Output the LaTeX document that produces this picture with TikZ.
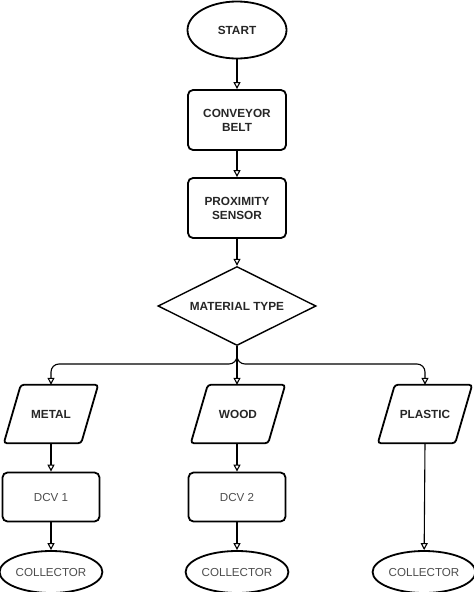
\documentclass[tikz,border=0pt]{standalone}
\usepackage{fontspec}
\setmainfont{Liberation Sans}
\usetikzlibrary{shapes.geometric,arrows.meta}

\begin{document}
\begin{tikzpicture}[x=1pt,y=-1pt,
        every node/.style={font=\fontsize{11}{13}\selectfont, text=black!85, inner sep=1pt},
        boldtext/.style={font=\bfseries\fontsize{11.8}{14}\selectfont},
        startstop/.style={ellipse, draw, line width=1.8pt, minimum width=99pt, minimum height=57pt, boldtext},
        collbox/.style={ellipse, draw, line width=1.8pt, minimum width=97pt, minimum height=42pt, text=black!70, font=\fontsize{11.6}{13}\selectfont},
        procbox/.style={rectangle, rounded corners=5pt, draw, line width=1.8pt, minimum width=98pt, minimum height=60pt, align=center, boldtext},
        dcvbox/.style={rectangle, rounded corners=5pt, draw, line width=1.8pt, minimum width=97pt, minimum height=49pt, text=black!70, font=\fontsize{11.6}{13}\selectfont},
        decision/.style={diamond, draw, line width=1.4pt, aspect=2, minimum width=158pt, minimum height=79pt, boldtext},
        iobox/.style={rectangle, minimum width=77pt, minimum height=58pt, boldtext},
        ioline/.style={draw, line width=1.8pt, rounded corners=3pt},
        arrow/.style={-{Triangle[open,length=7pt,width=7pt]}, line width=1.1pt}]
    \useasboundingbox (0,0) rectangle (474,592);
    % main column
    \node[startstop] (start) at (237,30) {START};
    \node[procbox] (belt) at (237,120) {CONVEYOR\\BELT};
    \node[procbox] (sensor) at (237,208) {PROXIMITY\\SENSOR};
    \node[decision] (type) at (237,306) {MATERIAL TYPE};
    % materials
    \node[iobox] (metal) at (51,414) {METAL};
    \node[iobox] (wood) at (238,414) {WOOD};
    \node[iobox] (plastic) at (425,414) {PLASTIC};
    \foreach \n in {metal,wood,plastic}
        \draw[ioline] ([xshift=8.5pt]\n.north west) -- ([xshift=8.5pt]\n.north east)
            -- ([xshift=-8.5pt]\n.south east) -- ([xshift=-8.5pt]\n.south west) -- cycle;
    % valves
    \node[dcvbox] (dcv1) at (51,497) {DCV 1};
    \node[dcvbox] (dcv2) at (237,497) {DCV 2};
    % collectors
    \node[collbox] (coll1) at (51,572) {COLLECTOR};
    \node[collbox] (coll2) at (237,572) {COLLECTOR};
    \node[collbox] (coll3) at (424,572) {COLLECTOR};

    \draw[arrow] (start) -- (belt);
    \draw[arrow] (belt) -- (sensor);
    \draw[arrow] (sensor) -- (type);
    \coordinate (split) at (237,364);
    \draw[arrow, rounded corners=8pt] (type.south) -- (split) -| (metal.north);
    \draw[arrow] (type.south) -- (wood.north -| type.south);
    \draw[arrow, rounded corners=8pt] (type.south) -- (split) -| (plastic.north);
    \draw[arrow] (metal.south) -- (dcv1);
    \draw[arrow] (wood.south -| dcv2.north) -- (dcv2);
    \draw[arrow] (dcv1) -- (coll1);
    \draw[arrow] (dcv2) -- (coll2);
    \draw[arrow] (plastic.south) -- (coll3);
\end{tikzpicture}
\end{document}
